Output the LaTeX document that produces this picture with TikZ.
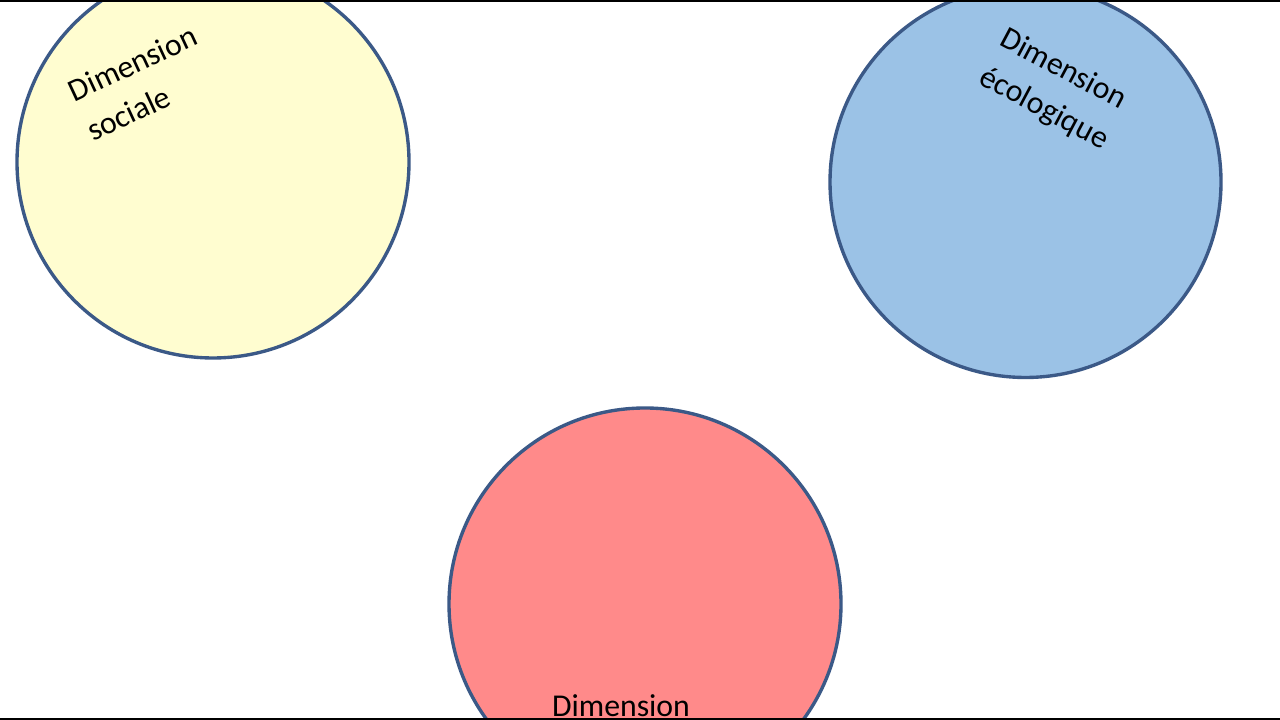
\documentclass[tikz,border=0pt]{standalone}
\usepackage{fontspec}
\setmainfont{Carlito}
\definecolor{socialfill}{RGB}{255,253,208}
\definecolor{ecofill}{RGB}{155,194,230}
\definecolor{econfill}{RGB}{255,138,138}
\definecolor{ringcol}{RGB}{59,89,135}
\tikzset{
  ring/.style={draw=ringcol, line width=2.4pt},
  dimlabel/.style={font=\fontsize{22.6}{31}\selectfont, align=left, inner sep=0pt}
}
\begin{document}
\begin{tikzpicture}[x=0.025cm,y=0.025cm]
    \useasboundingbox (0,0) rectangle (1280,720);
    \fill[white] (0,0) rectangle (1280,720);
             \fill[socialfill] (213,558) circle (196);  % Dimension sociale
            \draw[ring] (213,558) circle (196);
             \fill[ecofill] (1025.5,538) circle (195.5);  % Dimension ecologique
            \draw[ring] (1025.5,538) circle (195.5);
             \fill[econfill] (645,116) circle (196);  % Dimension (bas)
            \draw[ring] (645,116) circle (196);
            \node[dimlabel, rotate=25] (social) at (142,637) {Dimension\\ sociale};
            \node[dimlabel, rotate=-28] (eco) at (1054,630) {Dimension\\ écologique};
            \node[dimlabel] (econ) at (621,14) {Dimension};
    % bords noirs de la capture
    \fill[black] (0,718) rectangle (1280,720);
    \fill[black] (0,0) rectangle (1280,2);
\end{tikzpicture}
\end{document}
